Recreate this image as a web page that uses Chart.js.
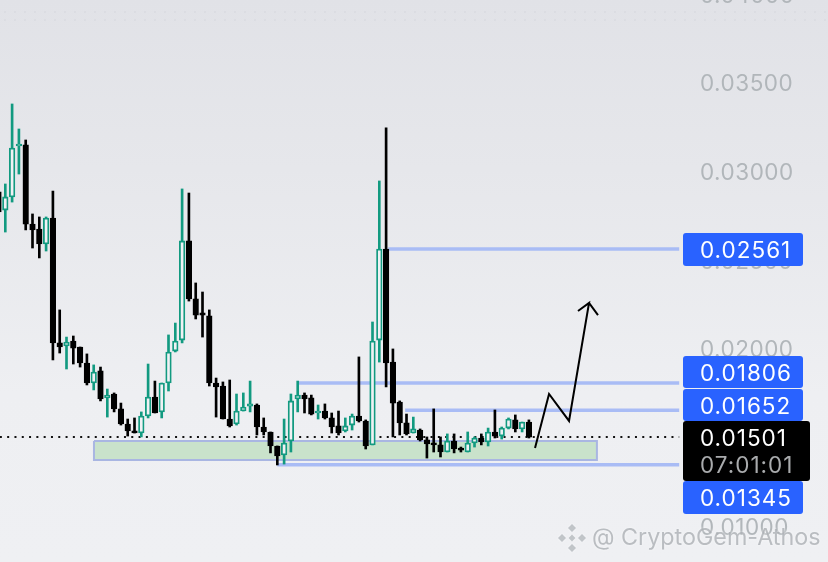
<!DOCTYPE html>
<html>
<head>
<meta charset="utf-8">
<style>
html,body{margin:0;padding:0;width:828px;height:562px;overflow:hidden;background:linear-gradient(180deg,#e1e2e7 0%,#e6e7eb 30%,#eeeff2 70%,#eff0f3 100%);}
#dots{position:absolute;left:0;top:8px;width:828px;height:16px;background-image:radial-gradient(circle,rgba(150,155,165,.25) .5px,transparent .8px);background-size:10px 8px;}
#wrap{position:absolute;left:0;top:-20px;width:828px;height:582px;}
canvas{display:block}
</style>
</head>
<body>
<div id="dots"></div>
<div id="wrap"><canvas id="c" width="828" height="582"></canvas></div>
<script src="https://cdn.jsdelivr.net/npm/chart.js@4/dist/chart.umd.min.js"></script>
<script>
const highs=[0.02934,0.02928,0.03379,0.03238,0.03176,0.02759,0.02742,0.02742,0.02888,0.02218,0.02065,0.02071,0.02009,0.01970,0.01908,0.01896,0.01772,0.01750,0.01693,0.01603,0.01609,0.01643,0.01913,0.01817,0.01806,0.02077,0.02144,0.02900,0.02877,0.02370,0.02319,0.02218,0.01834,0.01812,0.01823,0.01744,0.01750,0.01817,0.01688,0.01609,0.01530,0.01451,0.01603,0.01744,0.01817,0.01750,0.01738,0.01682,0.01688,0.01637,0.01648,0.01609,0.01631,0.01953,0.01598,0.02150,0.02945,0.03244,0.01998,0.01705,0.01631,0.01614,0.01547,0.01502,0.01660,0.01502,0.01519,0.01519,0.01445,0.01530,0.01502,0.01519,0.01552,0.01654,0.01558,0.01609,0.01626,0.01586,0.01598];
const lows=[0.02657,0.02657,0.02826,0.02984,0.02669,0.02567,0.02511,0.02550,0.01936,0.01975,0.01885,0.01913,0.01896,0.01795,0.01767,0.01705,0.01614,0.01643,0.01569,0.01507,0.01524,0.01502,0.01609,0.01637,0.01609,0.01761,0.01981,0.02032,0.02268,0.02167,0.02065,0.01789,0.01614,0.01603,0.01558,0.01569,0.01648,0.01643,0.01513,0.01513,0.01412,0.01344,0.01349,0.01417,0.01643,0.01637,0.01626,0.01603,0.01603,0.01524,0.01513,0.01530,0.01541,0.01586,0.01434,0.01457,0.01924,0.01784,0.01502,0.01513,0.01513,0.01524,0.01479,0.01383,0.01417,0.01389,0.01417,0.01412,0.01417,0.01417,0.01445,0.01457,0.01451,0.01496,0.01490,0.01547,0.01530,0.01530,0.01496];
const opens=[0.02883,0.02781,0.02855,0.03142,0.03148,0.02702,0.02674,0.02590,0.02736,0.02032,0.02015,0.02043,0.02009,0.01919,0.01806,0.01874,0.01722,0.01744,0.01660,0.01575,0.01536,0.01524,0.01620,0.01727,0.01643,0.01806,0.01986,0.02048,0.02607,0.02280,0.02201,0.02184,0.01806,0.01789,0.01603,0.01575,0.01648,0.01676,0.01682,0.01558,0.01530,0.01451,0.01400,0.01479,0.01716,0.01738,0.01722,0.01637,0.01648,0.01609,0.01564,0.01536,0.01569,0.01620,0.01592,0.01457,0.02048,0.02561,0.01924,0.01699,0.01581,0.01524,0.01541,0.01485,0.01468,0.01457,0.01417,0.01479,0.01434,0.01417,0.01468,0.01496,0.01474,0.01530,0.01507,0.01552,0.01598,0.01547,0.01586];
const closes=[0.02770,0.02855,0.03131,0.03148,0.02702,0.02669,0.02590,0.02736,0.02032,0.02009,0.02037,0.02003,0.01919,0.01806,0.01868,0.01716,0.01738,0.01660,0.01575,0.01536,0.01524,0.01620,0.01727,0.01637,0.01806,0.01981,0.02043,0.02607,0.02280,0.02189,0.02189,0.01806,0.01784,0.01603,0.01564,0.01648,0.01671,0.01688,0.01558,0.01530,0.01451,0.01395,0.01468,0.01705,0.01738,0.01716,0.01631,0.01648,0.01609,0.01558,0.01524,0.01564,0.01620,0.01592,0.01451,0.02043,0.02561,0.01919,0.01693,0.01581,0.01519,0.01547,0.01485,0.01462,0.01457,0.01417,0.01479,0.01434,0.01428,0.01468,0.01496,0.01474,0.01530,0.01507,0.01552,0.01603,0.01547,0.01586,0.01501];
const tickValues=[0.01,0.02,0.025,0.03,0.035,0.04];
const levelPrices=[0.02561,0.01806,0.01652,0.01345];
const levelStarts=[57.3,44.0,59.8,41.0];
const levelEnd=100.1;
const lastPrice=0.01501;
const countdown="07:01:01";
const zoneX=[14.04,88.0];
const zoneY=[0.01479,0.01372];
const pathX=[78.9,80.96,83.9,86.84,85.22,86.84,88.16];
const pathY=[0.01440,0.01744,0.01592,0.02257,0.02212,0.02257,0.02189];
const watermark="@ CryptoGem-Athos";

const GREEN="#129a80", BLACK="#000000", HOLLOW="#f0f1f4", LEVEL="#a9bcf5", BLUE="#2962ff";
const FONT="Inter, 'Liberation Sans', sans-serif";
const rising=closes.map((c,i)=>c>=opens[i]);

const wicks=highs.map((h,i)=>({x:i,y:[lows[i],h]}));
const bodies=opens.map((o,i)=>({x:i,y:[Math.min(o,closes[i]),Math.max(o,closes[i])]}));

const datasets=[
 {type:'line',data:[{x:zoneX[0],y:zoneY[0]},{x:zoneX[1],y:zoneY[0]},{x:zoneX[1],y:zoneY[1]},{x:zoneX[0],y:zoneY[1]},{x:zoneX[0],y:zoneY[0]}],
  fill:'shape',backgroundColor:'#c9e2cb',borderColor:'#a9b6e2',borderWidth:2,pointRadius:0,tension:0,order:10},
 ...levelPrices.map((p,i)=>({type:'line',data:[{x:levelStarts[i],y:p},{x:levelEnd,y:p}],borderColor:LEVEL,borderWidth:3.5,pointRadius:0,order:9})),
 {type:'line',data:[{x:0.2,y:lastPrice},{x:levelEnd,y:lastPrice}],borderColor:'#111',borderWidth:2,borderDash:[2,5.3],pointRadius:0,order:8},
 {type:'bar',data:wicks,grouped:false,barThickness:2,borderWidth:0,borderSkipped:false,backgroundColor:rising.map(r=>r?GREEN:BLACK),order:5},
 {type:'bar',data:bodies,grouped:false,barThickness:5.6,minBarLength:2,borderWidth:1.8,borderSkipped:false,backgroundColor:rising.map(r=>r?HOLLOW:BLACK),borderColor:rising.map(r=>r?GREEN:BLACK),order:4},
 {type:'line',data:pathX.map((x,i)=>({x,y:pathY[i]})),borderColor:'#000',borderWidth:2,pointRadius:0,tension:0,order:1}
];

const labels=[
 {text:"0.02561",top:233,h:33,w:120,fill:BLUE},
 {text:"0.01806",top:356,h:32,w:120,fill:BLUE},
 {text:"0.01652",top:389,h:32,w:120,fill:BLUE},
 {text:"0.01345",top:481,h:33,w:120,fill:BLUE}
];
const overlay={id:'overlay',
 beforeDraw(chart){chart.ctx.letterSpacing='0.5px';},
 afterDatasetsDraw(chart){
 const c=chart.ctx, off=20;
 c.save();
 c.letterSpacing='1px';
 c.textBaseline='middle';c.textAlign='left';
 c.font="22.5px "+FONT;
 labels.forEach(l=>{
  c.fillStyle=l.fill;c.beginPath();c.roundRect(683,l.top+off,l.w,l.h,3);c.fill();
  c.fillStyle='#fff';c.fillText(l.text,700,l.top+off+l.h/2+2);
 });
 c.fillStyle='#000';c.beginPath();c.roundRect(683,421+off,127,60,3);c.fill();
 c.fillStyle='#fff';c.fillText(lastPrice.toFixed(5),700,439+off);
 c.fillStyle='#a9abad';c.fillText(countdown,700,466+off);
 /* watermark */
 c.letterSpacing='0px';
 c.shadowColor='rgba(255,255,255,.9)';c.shadowBlur=3;
 c.fillStyle='rgba(165,170,175,.75)';c.font="23.3px "+FONT;
 c.fillText(watermark,592,538+off);
 c.translate(572,538+off);
 c.fillStyle='rgba(170,175,180,.7)';
 [[0,-10],[-10,0],[10,0],[0,10],[0,0]].forEach(p=>{
  c.beginPath();const s=p[0]||p[1]?4:3.4;
  c.moveTo(p[0],p[1]-s);c.lineTo(p[0]+s,p[1]);c.lineTo(p[0],p[1]+s);c.lineTo(p[0]-s,p[1]);c.closePath();c.fill();
 });
 c.restore();
}};

new Chart(document.getElementById('c'),{
 data:{datasets},
 plugins:[overlay],
 options:{
  responsive:false,animation:false,events:[],
  layout:{padding:0},
  plugins:{legend:{display:false},tooltip:{enabled:false}},
  scales:{
   x:{type:'linear',min:0.22,max:103.16,display:false,offset:false},
   y:{type:'linear',position:'right',min:0.00797,max:0.040778,
      grid:{display:false,drawTicks:false},border:{display:false},
      afterFit(a){a.width=128;a.paddingTop=0;a.paddingBottom=0;},
      afterBuildTicks(a){a.ticks=tickValues.map(value=>({value}));},
      ticks:{padding:0,labelOffset:2,color:'#b1b6ba',font:{family:FONT,size:22.5},callback:v=>Number(v).toFixed(5)}}
  }
 }
});
</script>
</body>
</html>
